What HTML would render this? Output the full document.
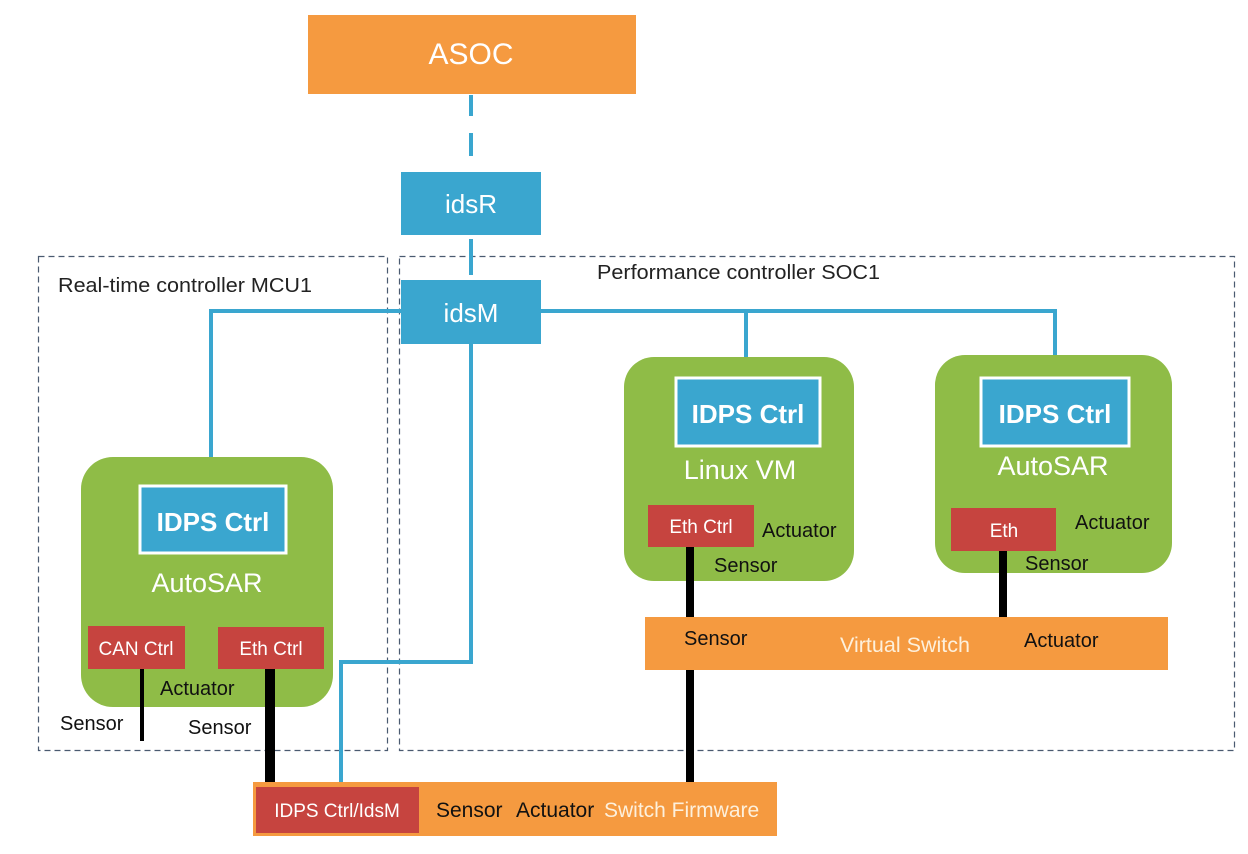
<!DOCTYPE html>
<html><head><meta charset="utf-8"><style>
html,body{margin:0;padding:0;background:#fff;}
svg{display:block;}
text{font-family:"Liberation Sans",sans-serif;}
</style></head><body>
<svg width="1248" height="854" viewBox="0 0 1248 854" xmlns="http://www.w3.org/2000/svg">
<rect width="1248" height="854" fill="#fff"/>
<!-- dashed containers -->
<rect x="38.5" y="256.5" width="349" height="494" fill="none" stroke="#4a5a70" stroke-width="1.2" stroke-dasharray="6,4"/>
<rect x="399.5" y="256.5" width="835" height="494" fill="none" stroke="#4a5a70" stroke-width="1.2" stroke-dasharray="6,4"/>
<text x="58" y="292" font-size="20" fill="#222" textLength="254" lengthAdjust="spacingAndGlyphs">Real-time controller MCU1</text>
<text x="597" y="279" font-size="20" fill="#222" textLength="283" lengthAdjust="spacingAndGlyphs">Performance controller SOC1</text>

<!-- ASOC -->
<rect x="308" y="15" width="328" height="79" fill="#f59a40"/>
<text x="471" y="64" font-size="30" fill="#fff" text-anchor="middle">ASOC</text>
<line x1="471" y1="95" x2="471" y2="116" stroke="#3aa6cf" stroke-width="4"/>
<line x1="471" y1="133" x2="471" y2="156" stroke="#3aa6cf" stroke-width="4"/>
<rect x="401" y="172" width="140" height="63" fill="#3aa6cf"/>
<text x="471" y="213" font-size="26" fill="#fff" text-anchor="middle">idsR</text>
<line x1="471" y1="239" x2="471" y2="275" stroke="#3aa6cf" stroke-width="4"/>

<!-- blue connectors -->
<polyline points="401,311 211,311 211,486" fill="none" stroke="#3aa6cf" stroke-width="4"/>
<polyline points="541,311 1055,311 1055,378" fill="none" stroke="#3aa6cf" stroke-width="4"/>
<line x1="746" y1="311" x2="746" y2="378" stroke="#3aa6cf" stroke-width="4"/>
<polyline points="471,344 471,662 341,662 341,787" fill="none" stroke="#3aa6cf" stroke-width="4"/>

<rect x="401" y="280" width="140" height="64" fill="#3aa6cf"/>
<text x="471" y="322" font-size="26" fill="#fff" text-anchor="middle">idsM</text>

<!-- left green -->
<rect x="81" y="457" width="252" height="250" rx="32" fill="#8fbc47"/>
<rect x="140" y="486" width="146" height="67" fill="#3aa6cf" stroke="#fff" stroke-width="3"/>
<text x="213" y="531" font-size="26" fill="#fff" text-anchor="middle" font-weight="bold">IDPS Ctrl</text>
<text x="207" y="592" font-size="27" fill="#fff" text-anchor="middle">AutoSAR</text>
<rect x="88" y="626" width="97" height="43" fill="#c6443f"/>
<text x="136" y="655" font-size="19" fill="#fff" text-anchor="middle">CAN Ctrl</text>
<rect x="218" y="627" width="106" height="42" fill="#c6443f"/>
<text x="271" y="655" font-size="19" fill="#fff" text-anchor="middle">Eth Ctrl</text>
<line x1="142" y1="669" x2="142" y2="741" stroke="#000" stroke-width="4"/>
<line x1="270" y1="669" x2="270" y2="782" stroke="#000" stroke-width="10"/>
<text x="160" y="695" font-size="20" fill="#111">Actuator</text>
<text x="60" y="730" font-size="20" fill="#111">Sensor</text>
<text x="188" y="734" font-size="20" fill="#111">Sensor</text>

<!-- middle green -->
<rect x="624" y="357" width="230" height="224" rx="30" fill="#8fbc47"/>
<rect x="676" y="378" width="144" height="68" fill="#3aa6cf" stroke="#fff" stroke-width="3"/>
<text x="748" y="423" font-size="26" fill="#fff" text-anchor="middle" font-weight="bold">IDPS Ctrl</text>
<text x="740" y="479" font-size="27" fill="#fff" text-anchor="middle">Linux VM</text>
<rect x="648" y="505" width="106" height="42" fill="#c6443f"/>
<text x="701" y="533" font-size="19" fill="#fff" text-anchor="middle">Eth Ctrl</text>
<text x="762" y="537" font-size="20" fill="#111">Actuator</text>
<text x="714" y="572" font-size="20" fill="#111">Sensor</text>
<line x1="690" y1="547" x2="690" y2="617" stroke="#000" stroke-width="8"/>

<!-- right green -->
<rect x="935" y="355" width="237" height="218" rx="30" fill="#8fbc47"/>
<rect x="981" y="378" width="148" height="68" fill="#3aa6cf" stroke="#fff" stroke-width="3"/>
<text x="1055" y="423" font-size="26" fill="#fff" text-anchor="middle" font-weight="bold">IDPS Ctrl</text>
<text x="1053" y="475" font-size="27" fill="#fff" text-anchor="middle">AutoSAR</text>
<rect x="951" y="508" width="105" height="43" fill="#c6443f"/>
<text x="1004" y="537" font-size="19" fill="#fff" text-anchor="middle">Eth</text>
<text x="1075" y="529" font-size="20" fill="#111">Actuator</text>
<text x="1025" y="570" font-size="20" fill="#111">Sensor</text>
<line x1="1003" y1="551" x2="1003" y2="617" stroke="#000" stroke-width="8"/>

<!-- virtual switch -->
<rect x="645" y="617" width="523" height="53" fill="#f59a40"/>
<text x="684" y="645" font-size="20" fill="#111">Sensor</text>
<text x="840" y="652" font-size="21" fill="#fdf0dc" textLength="130" lengthAdjust="spacingAndGlyphs">Virtual Switch</text>
<text x="1024" y="647" font-size="20" fill="#111">Actuator</text>
<line x1="690" y1="670" x2="690" y2="782" stroke="#000" stroke-width="8"/>

<!-- switch firmware -->
<rect x="253" y="782" width="524" height="54" fill="#f59a40"/>
<rect x="256" y="787" width="163" height="46" fill="#c6443f"/>
<text x="337" y="817" font-size="19" fill="#fff" text-anchor="middle">IDPS Ctrl/IdsM</text>
<text x="436" y="817" font-size="21" fill="#111">Sensor</text>
<text x="516" y="817" font-size="21" fill="#111">Actuator</text>
<text x="604" y="817" font-size="21" fill="#fdf0dc">Switch Firmware</text>
</svg>
</body></html>
